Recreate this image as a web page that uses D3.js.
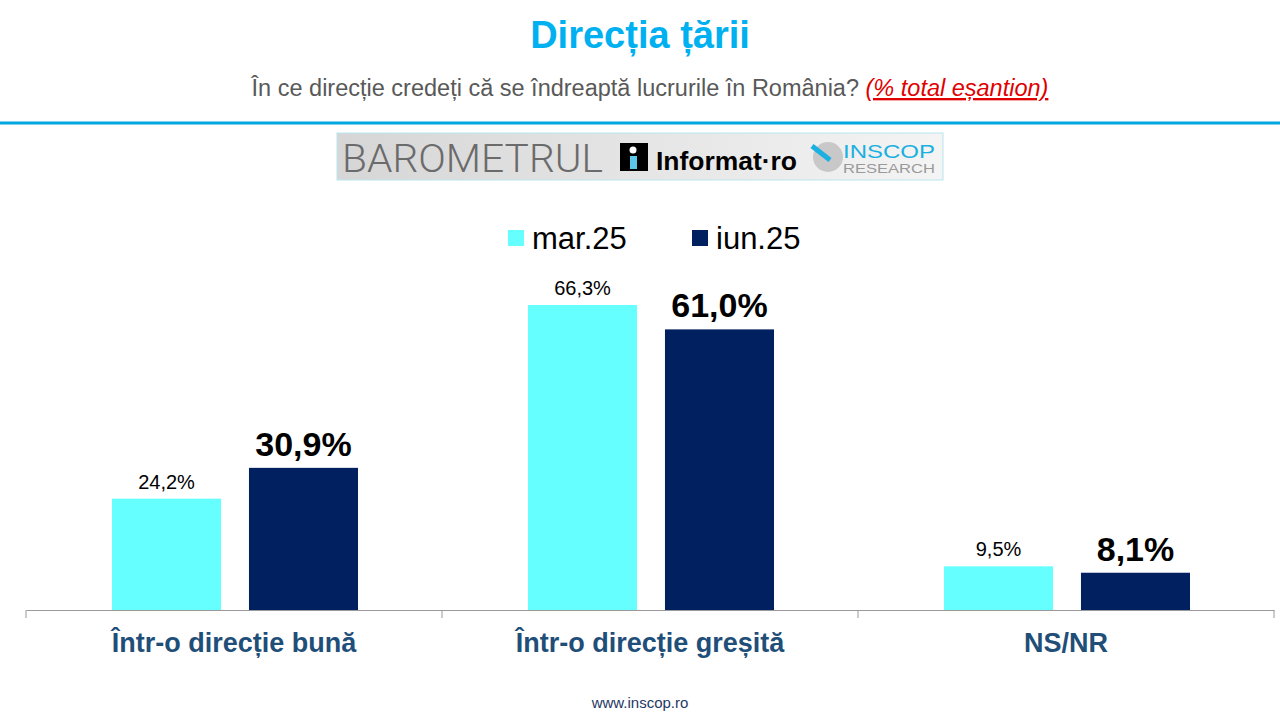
<!DOCTYPE html>
<html><head><meta charset="utf-8">
<script src="https://cdn.jsdelivr.net/npm/d3@7"></script>
<style>body{margin:0;background:#fff;font-family:Arial,"Liberation Sans",sans-serif}</style>
</head><body>
<svg id="c" width="1280" height="720"></svg>
<script>
const categories = ['Într-o direcție bună', 'Într-o direcție greșită', 'NS/NR'];
const seriesNames = ['mar.25', 'iun.25'];
const mar25 = [24.2, 66.3, 9.5];
const iun25 = [30.9, 61.0, 8.1];
const colors = ['#66FFFF', '#002060'];

const svg = d3.select('#c');
const fmt = v => v.toFixed(1).replace('.', ',') + '%';

// header
svg.append('text').attr('x', 640).attr('y', 48).attr('text-anchor', 'middle')
  .attr('font-size', 38).attr('font-weight', 'bold').attr('fill', '#00B0F0').text('Direcția țării');
const sub = svg.append('text').attr('x', 650).attr('y', 96).attr('text-anchor', 'middle')
  .attr('font-size', 23.5).attr('fill', '#595959');
sub.append('tspan').text('În ce direcție credeți că se îndreaptă lucrurile în România? ');
sub.append('tspan').attr('fill', '#E00000').attr('font-style', 'italic').attr('text-decoration', 'underline')
  .text('(% total eșantion)');
svg.append('line').attr('x1', 0).attr('x2', 1280).attr('y1', 123).attr('y2', 123)
  .attr('stroke', '#00A6E0').attr('stroke-width', 3);

// banner
const defs = svg.append('defs');
const g = defs.append('linearGradient').attr('id', 'bg');
g.append('stop').attr('offset', 0).attr('stop-color', '#d6d6d6');
g.append('stop').attr('offset', 1).attr('stop-color', '#f4f4f4');
svg.append('rect').attr('x', 337).attr('y', 133).attr('width', 606).attr('height', 47)
  .attr('fill', 'url(#bg)').attr('stroke', '#b8e6f0');
svg.append('text').attr('x', 342).attr('y', 172).attr('font-size', 38).attr('fill', '#6b6b6b')
  .attr('font-family', 'Roboto, sans-serif').attr('font-weight', 300)
  .attr('textLength', 261).attr('lengthAdjust', 'spacingAndGlyphs').text('BAROMETRUL');
svg.append('rect').attr('x', 620).attr('y', 143).attr('width', 28).attr('height', 28).attr('fill', '#000');
svg.append('rect').attr('x', 630).attr('y', 156).attr('width', 7).attr('height', 13).attr('fill', '#5cc8e8');
svg.append('circle').attr('cx', 633).attr('cy', 150).attr('r', 3.5).attr('fill', '#fff');
svg.append('text').attr('x', 656).attr('y', 170).attr('font-size', 25).attr('font-weight', 'bold').attr('fill', '#000')
  .attr('textLength', 141).attr('lengthAdjust', 'spacingAndGlyphs').text('Informat·ro');
svg.append('circle').attr('cx', 828).attr('cy', 157).attr('r', 15).attr('fill', '#c8c8c8');
svg.append('line').attr('x1', 812).attr('y1', 146).attr('x2', 830).attr('y2', 160)
  .attr('stroke', '#1ab0e0').attr('stroke-width', 5);
svg.append('text').attr('x', 843).attr('y', 158).attr('font-size', 19).attr('fill', '#1ab0e0')
  .attr('textLength', 92).attr('lengthAdjust', 'spacingAndGlyphs').text('INSCOP');
svg.append('text').attr('x', 843).attr('y', 173).attr('font-size', 13).attr('fill', '#9a9a9a')
  .attr('textLength', 92).attr('lengthAdjust', 'spacingAndGlyphs').text('RESEARCH');

// legend
seriesNames.forEach((s, i) => {
  const lx = [508, 692][i];
  svg.append('rect').attr('x', lx).attr('y', 230).attr('width', 16).attr('height', 16).attr('fill', colors[i]);
  svg.append('text').attr('x', lx + 24).attr('y', 249).attr('font-size', 31).attr('fill', '#000').text(s);
});

// chart
const base = 610;
const x0 = d3.scaleBand().domain(categories).range([26, 1274]);
const x1 = d3.scaleBand().domain(seriesNames).range([86, 332]).paddingInner(0.204);
const y = d3.scaleLinear().domain([0, 66.3]).range([base, 305]);
const values = [mar25, iun25];

categories.forEach((c, ci) => {
  seriesNames.forEach((s, si) => {
    const v = values[si][ci];
    const bx = x0(c) + x1(s);
    svg.append('rect').attr('x', bx).attr('y', y(v)).attr('width', x1.bandwidth())
      .attr('height', base - y(v)).attr('fill', colors[si]);
    svg.append('text').attr('x', bx + x1.bandwidth() / 2).attr('y', y(v) - (si ? 12 : 10))
      .attr('text-anchor', 'middle').attr('fill', '#000')
      .attr('font-size', si ? 34 : 20).attr('font-weight', si ? 'bold' : 'normal').text(fmt(v));
  });
});

const ax = svg.append('g').attr('transform', `translate(0,${base})`)
  .call(d3.axisBottom(x0).tickSize(0).tickFormat(''));
ax.select('.domain').attr('stroke', '#999');
[26, 442, 858, 1274].forEach(t => ax.append('line').attr('x1', t).attr('x2', t).attr('y1', 0).attr('y2', 8).attr('stroke', '#999'));
categories.forEach(c => {
  svg.append('text').attr('x', x0(c) + x0.bandwidth() / 2).attr('y', 652).attr('text-anchor', 'middle')
    .attr('font-size', 27).attr('font-weight', 'bold').attr('fill', '#1F4E79').text(c);
});

svg.append('text').attr('x', 640).attr('y', 708).attr('text-anchor', 'middle').attr('font-size', 15)
  .attr('fill', '#1F3864').text('www.inscop.ro');
</script>
</body></html>
